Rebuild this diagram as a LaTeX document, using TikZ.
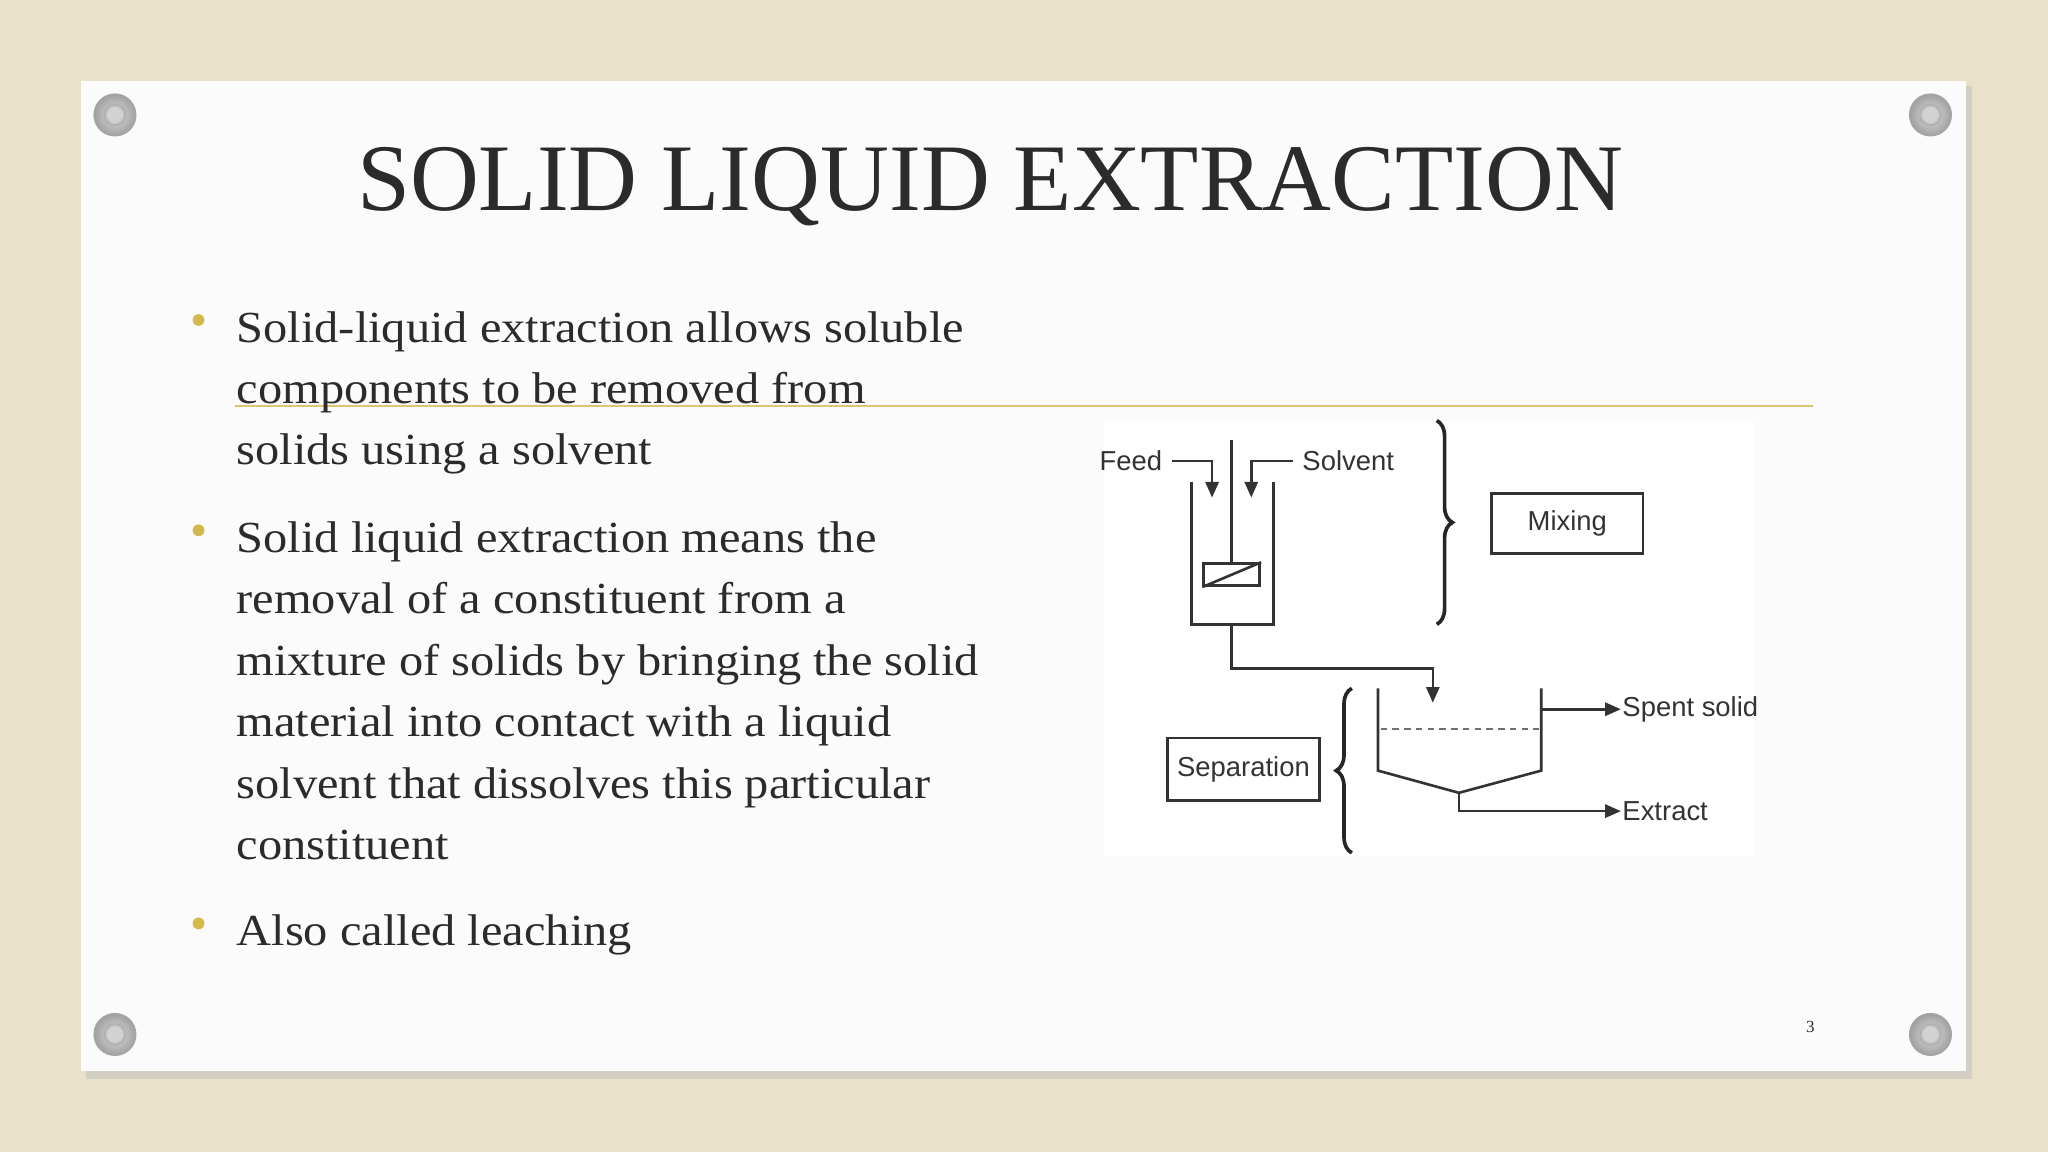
\documentclass[tikz,border=0pt]{standalone}
\usepackage{fontspec}
\setmainfont{Liberation Serif}
\newfontfamily\bodyfont[FakeStretch=1.09]{Liberation Serif}
\newfontfamily\diagfont{Liberation Sans}
\usetikzlibrary{decorations.pathreplacing,arrows.meta}
\definecolor{canvas}{HTML}{E9E1CA}
\definecolor{gold}{HTML}{D4B84A}
\definecolor{txt}{HTML}{2B2B2B}
\definecolor{dg}{HTML}{333333}
\tikzset{
  bul/.style={anchor=base west,text=txt,font=\bodyfont\fontsize{34}{40}\selectfont,inner sep=0},
  dot/.style={circle,fill=gold,minimum size=9pt,inner sep=0},
  dl/.style={draw=dg,line width=2pt},
  arr/.style={dl,-{Triangle[length=12pt,width=10pt]}},
  dtxt/.style={font=\diagfont\fontsize{21}{24}\selectfont,text=dg,inner sep=1pt},
  dbox/.style={draw=dg,line width=2pt,font=\diagfont\fontsize{21}{24}\selectfont,text=dg,inner sep=0},
  brc/.style={draw=black!85,line width=2.8pt,decorate,decoration={brace,amplitude=12pt}},
  screw/.style={circle,minimum size=32pt,inner sep=0,draw=gray!70,line width=1pt,inner color=gray!25,outer color=gray!75}
}
\begin{document}
\begin{tikzpicture}[x=1pt,y=-1pt]
\useasboundingbox (0,0) rectangle (1568,882);
\fill[canvas] (0,0) rectangle (1568,882);
\fill[black!25,opacity=0.5] (66,66) rectangle (1510,826);
\fill[white!97!gray] (62,62) rectangle (1505,820);
% screws
\foreach \n/\x/\y in {s1/88/88,s2/1478/88,s3/88/792,s4/1478/792}{
  \node[screw] (\n) at (\x,\y) {};
  \draw[gray!60,line width=1.5pt] (\x,\y) circle (8);
  \fill[gray!35] (\x,\y) circle (6);
}
\node[text=txt,font=\fontsize{73}{76}\selectfont,inner sep=0] (title) at (758,143) {SOLID LIQUID EXTRACTION};
\draw[gold!80,line width=1.2pt] (180,311) -- (1388,311);
% bullets
\node[dot] (d1) at (152,245) {};
\node[dot] (d2) at (152,406) {};
\node[dot] (d3) at (152,707) {};
\node[bul] (b1) at (181,262) {Solid-liquid extraction allows soluble};
\node[bul] (b2) at (181,309) {components to be removed from};
\node[bul] (b3) at (181,356) {solids using a solvent};
\node[bul] (b4) at (181,423) {Solid liquid extraction means the};
\node[bul] (b5) at (181,470) {removal of a constituent from a};
\node[bul] (b6) at (181,517) {mixture of solids by bringing the solid};
\node[bul] (b7) at (181,564) {material into contact with a liquid};
\node[bul] (b8) at (181,611) {solvent that dissolves this particular};
\node[bul] (b9) at (181,658) {constituent};
\node[bul] (b10) at (181,724) {Also called leaching};
\node[text=txt,font=\fontsize{13}{14}\selectfont] (pg) at (1386,786) {3};
% diagram
\fill[white] (845,322) rectangle (1343,655);
\node[dtxt,anchor=east] (feed) at (891,353) {Feed};
\node[dtxt,anchor=west] (solv) at (996,353) {Solvent};
\coordinate (f1) at (897,353); \coordinate (f2) at (928,353); \coordinate (f3) at (928,381);
\coordinate (v1) at (990,353); \coordinate (v2) at (958,353); \coordinate (v3) at (958,381);
\draw[arr] (f1) -- (f2) -- (f3);
\draw[arr] (v1) -- (v2) -- (v3);
\coordinate (tl) at (912,369); \coordinate (tr) at (975,369);
\draw[dl] (tl) -- (912,478) -- (975,478) -- (tr);
\draw[dl] (943,337) -- (943,431);
\node[draw=dg,line width=2pt,minimum width=43pt,minimum height=17pt,inner sep=0] (imp) at (943,440) {};
\draw[dl] (imp.south west) -- (imp.north east);
\coordinate (o1) at (943,478); \coordinate (o2) at (943,512); \coordinate (o3) at (1097,512); \coordinate (o4) at (1097,538);
\draw[arr] (o1) -- (o2) -- (o3) -- (o4);
\draw[brc] (1100,322) -- (1100,478);
\node[dbox,minimum width=116pt,minimum height=46pt] (mix) at (1200,401) {Mixing};
% separator
\coordinate (sl) at (1055,527); \coordinate (sr) at (1180,527); \coordinate (sb) at (1117,607);
\draw[dl] (sl) -- (1055,590) -- (sb) -- (1180,590) -- (sr);
\draw[dg!70,line width=1.8pt,dash pattern=on 5pt off 4pt] (1057,558) -- (1178,558);
\node[dtxt,anchor=west] (spent) at (1241,543) {Spent solid};
\node[dtxt,anchor=west] (extr) at (1241,621) {Extract};
\draw[arr] (1180,543) -- (spent.west);
\draw[arr] (sb) -- (1117,621) -- (extr.west);
\draw[brc] (1035,653) -- (1035,527);
\node[dbox,minimum width=116pt,minimum height=48pt] (sep) at (952,589) {Separation};
\end{tikzpicture}
\end{document}
